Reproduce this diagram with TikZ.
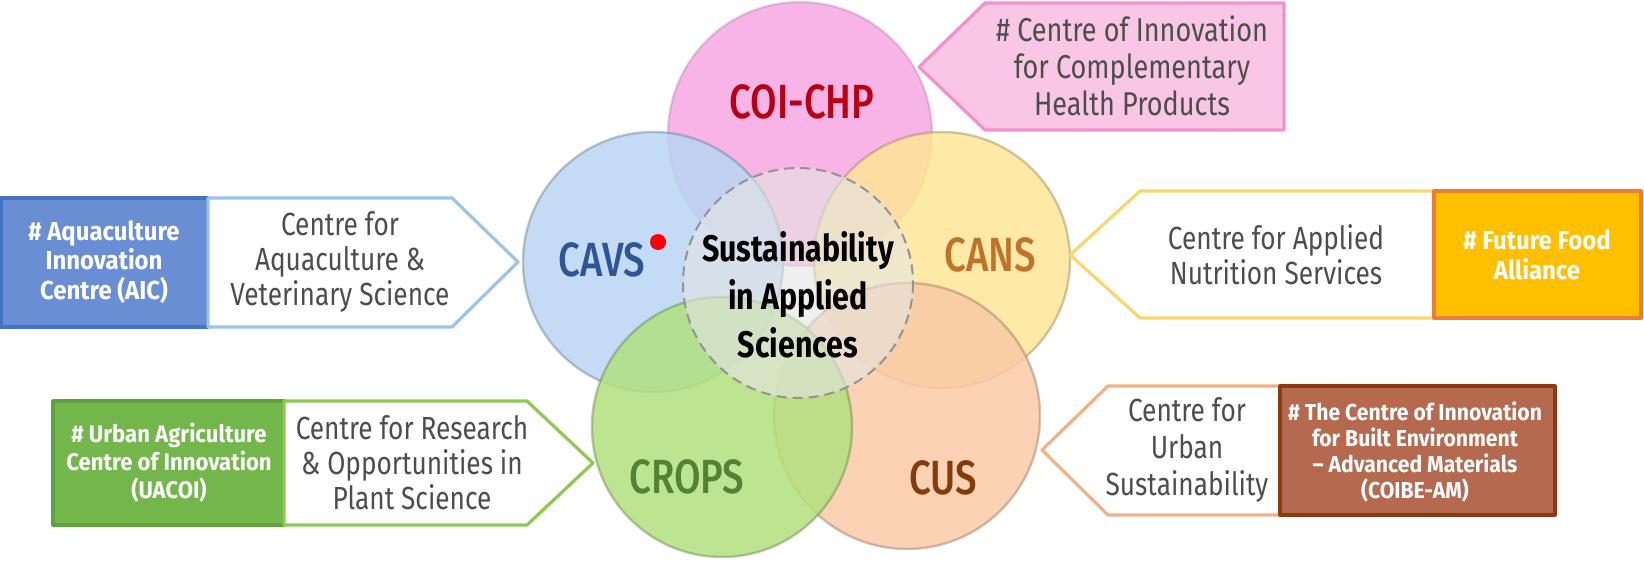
\documentclass[tikz,border=0pt]{standalone}
\usepackage{fontspec}
\setmainfont{Fira Sans}[FakeStretch=0.82]
\newfontfamily\tagfont{Fira Sans}[FakeStretch=0.92,Ligatures=TeX]
\newfontfamily\bubblefont{Fira Sans Medium}[FakeStretch=0.8]
\definecolor{txtgrey}{HTML}{4D4D4D}
\definecolor{aicfill}{HTML}{6A8ED3}
\definecolor{aicline}{HTML}{4472C4}
\definecolor{cavsline}{HTML}{9DC3E6}
\definecolor{pinkfill}{HTML}{F8B4E6}
\definecolor{pinkbox}{HTML}{F9C6E6}
\definecolor{pinkline}{HTML}{F291CC}
\definecolor{bluefill}{HTML}{B9D5F3}
\definecolor{yellowfill}{HTML}{FFE596}
\definecolor{greenfill}{HTML}{B2E07E}
\definecolor{orangefill}{HTML}{FACAA6}
\definecolor{yellowline}{HTML}{F9D66E}
\definecolor{ffafill}{HTML}{FFC000}
\definecolor{ffaline}{HTML}{ED7D31}
\definecolor{orangeline}{HTML}{F2B183}
\definecolor{coibefill}{HTML}{B5694F}
\definecolor{coibeline}{HTML}{8B3A12}
\definecolor{uacoifill}{HTML}{72B64C}
\definecolor{uacoiline}{HTML}{5EA33D}
\definecolor{greenline}{HTML}{8DCB50}
\definecolor{coichpred}{HTML}{B80012}
\definecolor{cavsblue}{HTML}{2F5597}
\definecolor{cansbrown}{HTML}{C0722A}
\definecolor{cropsgreen}{HTML}{548235}
\definecolor{cusbrown}{HTML}{843C0C}
\begin{document}
\begin{tikzpicture}[x=0.5pt,y=-0.5pt,line join=round,
  every node/.style={align=center,inner sep=0pt},
  bubble/.style={fill opacity=.85,draw opacity=.45,line width=1.2pt},
  bubblename/.style={font=\bubblefont\fontsize{24}{28}\selectfont},
  greytext/.style={text=txtgrey,font=\fontsize{16}{17.5}\selectfont},
  tagtext/.style={text=white,font=\tagfont\bfseries\fontsize{12}{14}\selectfont},
  pointer/.style={fill=white,line width=1.6pt},
  tagbox/.style={line width=1.6pt}
  ]
  \useasboundingbox (0,0) rectangle (1644,562);
  % circles
  \fill[pinkfill] (800,134) circle[radius=132];
  \draw[pinkfill!70!black,opacity=.35,line width=1.2pt] (800,134) circle[radius=132];
  \filldraw[bubble,fill=yellowfill,draw=yellowfill!60!black] (942,260) circle[radius=128];
  \filldraw[bubble,fill=bluefill,draw=bluefill!60!black] (653,262) circle[radius=130];
  \filldraw[bubble,fill=orangefill,draw=orangefill!60!black] (907,416) circle[radius=133];
  \filldraw[bubble,fill=greenfill,draw=greenfill!60!black] (722,427) circle[radius=130];
  \filldraw[fill=gray!20,fill opacity=.6,draw=gray!85,dash pattern=on 5pt off 3pt,line width=1pt] (798,283) circle[radius=115];
  \fill[red] (658,242) circle[radius=8];
  % names in the circles
  \node[bubblename,text=coichpred] (coichp) at (802,102) {COI-CHP};
  \node[bubblename,text=cavsblue] (cavs) at (602,260) {CAVS};
  \node[bubblename,text=cansbrown] (cans) at (990,255) {CANS};
  \node[bubblename,text=cropsgreen] (crops) at (687,477) {CROPS};
  \node[bubblename,text=cusbrown] (cus) at (943,478) {CUS};
  \node[font=\bfseries\fontsize{18.5}{24}\selectfont] (sas) at (798,295) {Sustainability\\in Applied\\Sciences};
  % left side
  \draw[tagbox,fill=aicfill,draw=aicline] (1,198) rectangle (208,327);
  \draw[pointer,draw=cavsline] (208,198)--(452,198)--(518,262)--(452,327)--(208,327)--cycle;
  \node[tagtext,font=\tagfont\bfseries\fontsize{13}{14.7}\selectfont] (aic) at (104,262) {\# Aquaculture\\Innovation\\Centre (AIC)};
  \node[greytext] (cavsfull) at (340,262) {Centre for\\Aquaculture \&\\Veterinary Science};
  \draw[tagbox,fill=uacoifill,draw=uacoiline] (53,401) rectangle (284,525);
  \draw[pointer,draw=greenline] (284,401)--(527,401)--(593,463)--(527,525)--(284,525)--cycle;
  \node[tagtext] (uacoi) at (169,463) {\# Urban Agriculture\\Centre of Innovation\\(UACOI)};
  \node[greytext] (cropsfull) at (412,463) {Centre for Research\\\& Opportunities in\\Plant Science};
  % top
  \draw[line width=1.6pt,fill=pinkbox,draw=pinkline] (919,67)--(985,3)--(1284,3)--(1284,130)--(985,130)--cycle;
  \node[greytext,font=\fontsize{16.5}{18.5}\selectfont] (coichpfull) at (1132,66) {\# Centre of Innovation\\for Complementary\\Health Products};
  % right side
  \draw[pointer,draw=yellowline] (1070,255)--(1140,191)--(1434,191)--(1434,318)--(1140,318)--cycle;
  \draw[tagbox,fill=ffafill,draw=ffaline] (1434,191) rectangle (1641,318);
  \node[greytext] (cansfull) at (1276,255) {Centre for Applied\\Nutrition Services};
  \node[tagtext,font=\tagfont\bfseries\fontsize{13}{14.7}\selectfont] (ffa) at (1537,255) {\# Future Food\\Alliance};
  \draw[pointer,draw=orangeline] (1042,450)--(1108,386)--(1280,386)--(1280,515)--(1108,515)--cycle;
  \draw[tagbox,fill=coibefill,draw=coibeline] (1280,386) rectangle (1555,515);
  \node[greytext,font=\fontsize{16}{18.5}\selectfont] (cusfull) at (1187,450) {Centre for\\Urban\\Sustainability};
  \node[tagtext,font=\tagfont\bfseries\fontsize{11.5}{13}\selectfont] (coibe) at (1415,452) {\# The Centre of Innovation\\for Built Environment\\\textendash{} Advanced Materials\\(COIBE-AM)};
\end{tikzpicture}
\end{document}
